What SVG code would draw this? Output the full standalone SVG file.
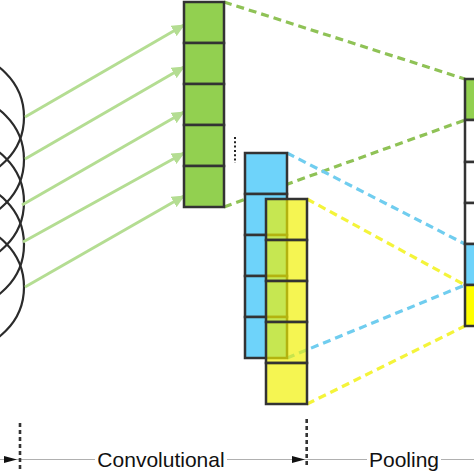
<svg xmlns="http://www.w3.org/2000/svg" width="474" height="474" viewBox="0 0 474 474">
<style>
.cell{stroke:#333;stroke-width:2.5}
.g{fill:#92D050}
.b{fill:#6ED3FA}
.y{fill:#F0F000;fill-opacity:0.68}
.yy{fill:#FFFF00}
.w{fill:#fff}
.arc{fill:none;stroke:#2b2b2b;stroke-width:2.2}
.arr{stroke:#B4DD92;stroke-width:3;fill:none;marker-end:url(#ah)}
.dash{fill:none;stroke-width:3.2;stroke-dasharray:8 5}
.dg{stroke:#8FC256}
.db{stroke:#70CDEF}
.dy{stroke:#F4F43A}
.vd{stroke:#333;stroke-width:2.6;stroke-dasharray:4 3;fill:none}
.axis{stroke:#B0B0B0;stroke-width:1.2}
.lbl{font-family:"Liberation Sans",Arial,sans-serif;font-size:21px;fill:#111}
</style>
<defs>
<marker id="ah" markerWidth="14" markerHeight="12" refX="12" refY="6" orient="auto" markerUnits="userSpaceOnUse">
<path d="M0,0 L13,6 L0,12 Z" fill="#B4DD92"/>
</marker>
</defs>
<rect width="474" height="474" fill="#fff"/>
<g id="input">
<circle class="arc" cx="-38" cy="117" r="62"/>
<circle class="arc" cx="-38" cy="159.5" r="62"/>
<circle class="arc" cx="-38" cy="202" r="62"/>
<circle class="arc" cx="-38" cy="244.5" r="62"/>
<circle class="arc" cx="-38" cy="287" r="62"/>
</g>
<g id="connectors">
<line class="arr" x1="25" y1="117" x2="184" y2="25"/>
<line class="arr" x1="25" y1="159" x2="184" y2="67"/>
<line class="arr" x1="22" y1="205" x2="184" y2="112"/>
<line class="arr" x1="23" y1="242" x2="184" y2="153"/>
<line class="arr" x1="25" y1="287" x2="184" y2="196"/>
<line class="dash dg" x1="224" y1="2" x2="465" y2="79"/>
<line class="dash dg" x1="224" y1="207" x2="465" y2="120"/>
<line class="dash db" x1="287" y1="153" x2="465" y2="244"/>
<line class="dash db" x1="287" y1="358" x2="465" y2="285"/>
<line class="dash dy" x1="307" y1="199" x2="465" y2="285"/>
<line class="dash dy" x1="307" y1="404" x2="465" y2="326"/>
</g>
<g id="conv-green">
<rect class="cell g" x="184" y="2" width="40" height="41"/>
<rect class="cell g" x="184" y="43" width="40" height="41"/>
<rect class="cell g" x="184" y="84" width="40" height="41"/>
<rect class="cell g" x="184" y="125" width="40" height="41"/>
<rect class="cell g" x="184" y="166" width="40" height="41"/>
</g>
<g id="ellipsis">
<line x1="235" y1="137" x2="235" y2="163" stroke="#222" stroke-width="2" stroke-dasharray="2 2.3"/>
</g>
<g id="conv-blue">
<rect class="cell b" x="245" y="153" width="42" height="41"/>
<rect class="cell b" x="245" y="194" width="42" height="41"/>
<rect class="cell b" x="245" y="235" width="42" height="41"/>
<rect class="cell b" x="245" y="276" width="42" height="41"/>
<rect class="cell b" x="245" y="317" width="42" height="41"/>
</g>
<g id="conv-yellow">
<rect class="cell y" x="266" y="199" width="41" height="41"/>
<rect class="cell y" x="266" y="240" width="41" height="41"/>
<rect class="cell y" x="266" y="281" width="41" height="41"/>
<rect class="cell y" x="266" y="322" width="41" height="41"/>
<rect class="cell y" x="266" y="363" width="41" height="41"/>
</g>
<g id="pool">
<rect class="cell g" x="465" y="79" width="40" height="41"/>
<rect class="cell w" x="465" y="120" width="40" height="42"/>
<rect class="cell w" x="465" y="162" width="40" height="41"/>
<rect class="cell w" x="465" y="203" width="40" height="41"/>
<rect class="cell b" x="465" y="244" width="40" height="41"/>
<rect class="cell yy" x="465" y="285" width="40" height="41"/>
</g>
<g id="axis">
<line class="axis" x1="0" y1="459.5" x2="95" y2="459.5"/>
<line class="axis" x1="227" y1="459.5" x2="367" y2="459.5"/>
<line class="axis" x1="441" y1="459.5" x2="474" y2="459.5"/>
<path d="M4,456 L17,459.5 L4,463 Z" fill="#111"/>
<path d="M292,456 L305,459.5 L292,463 Z" fill="#111"/>
<line class="vd" x1="20" y1="423" x2="20" y2="470"/>
<line class="vd" x1="306.7" y1="419" x2="306.7" y2="467"/>
<text class="lbl" x="161" y="467" text-anchor="middle">Convolutional</text>
<text class="lbl" x="404" y="467" text-anchor="middle">Pooling</text>
</g>
</svg>
